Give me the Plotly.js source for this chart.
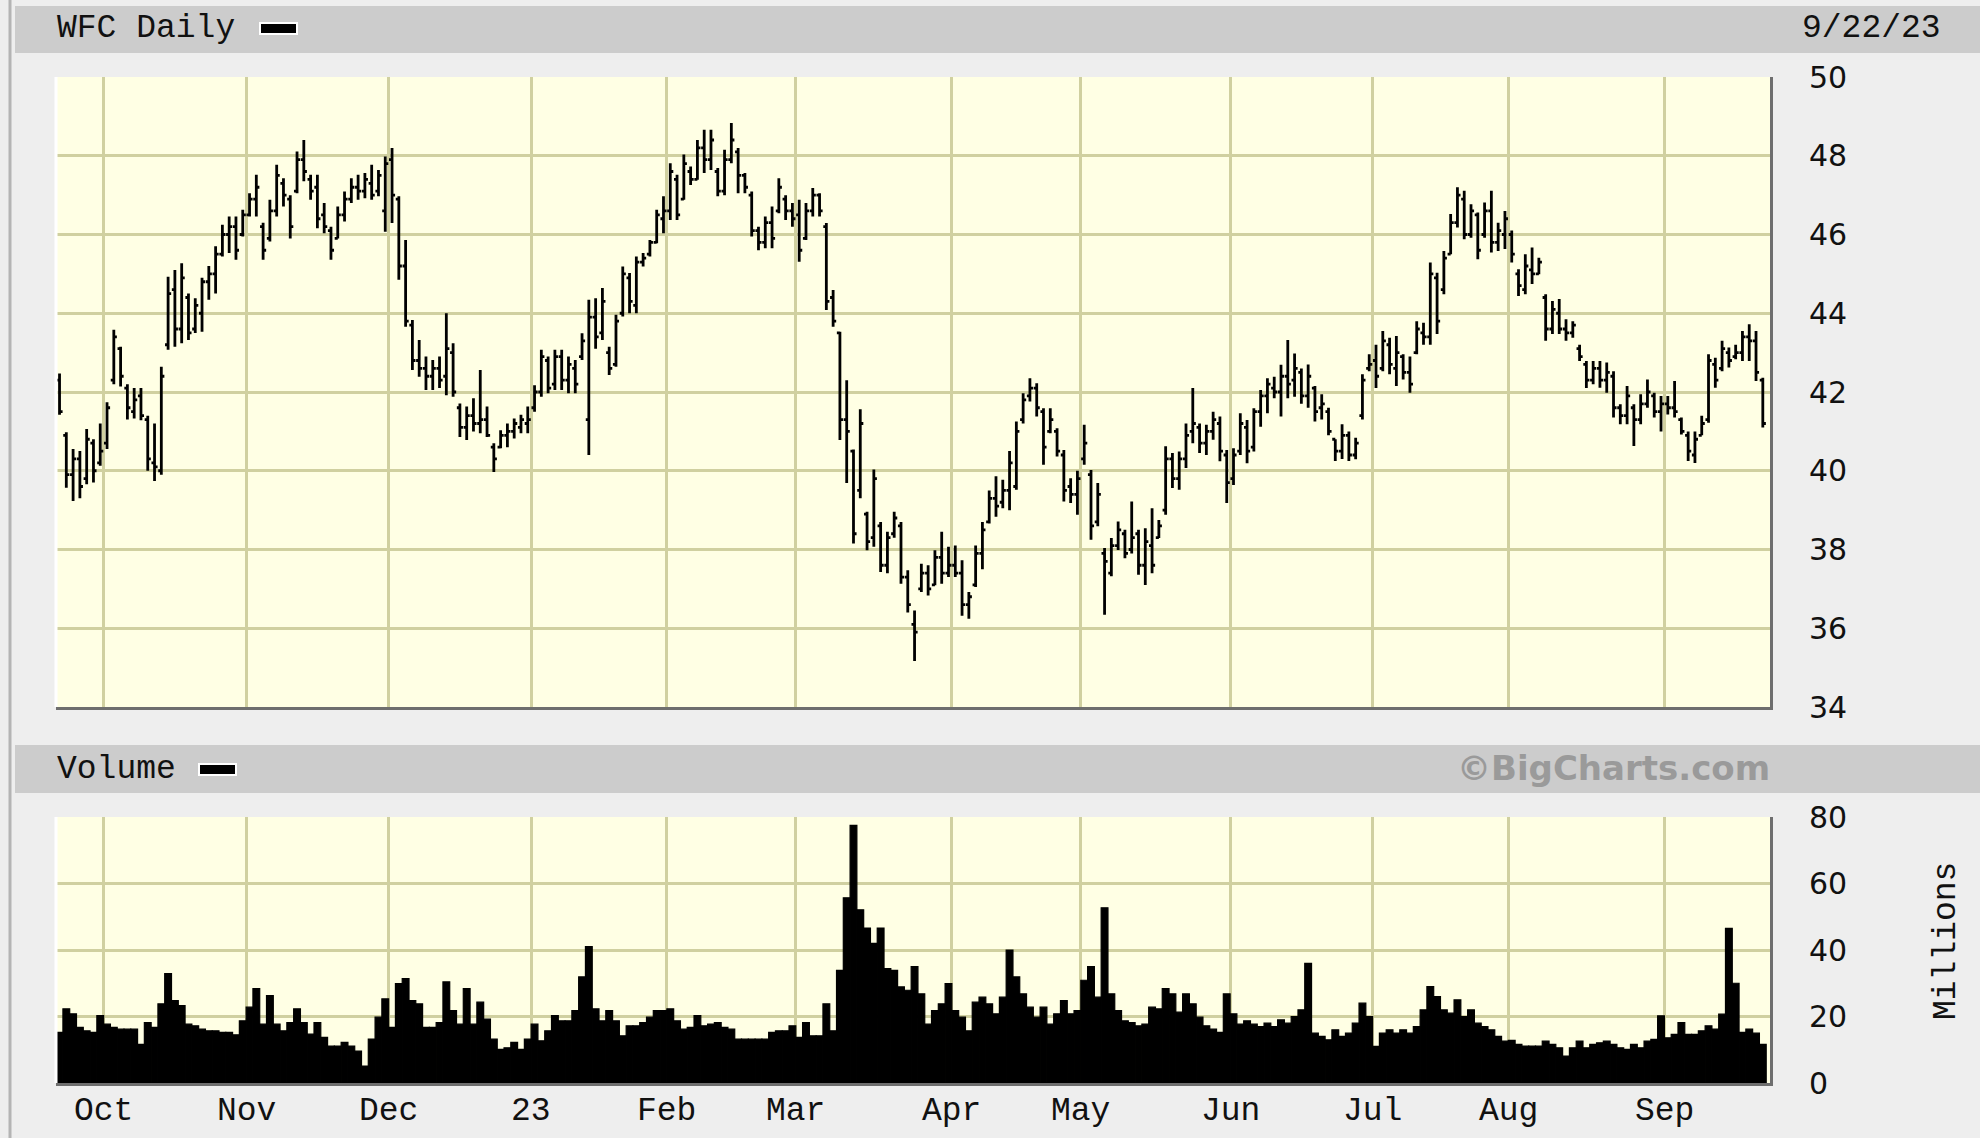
<!DOCTYPE html>
<html>
<head>
<meta charset="utf-8">
<script src="https://cdn.plot.ly/plotly-3.0.1.min.js"></script>
<style>
  html, body { margin: 0; padding: 0; background: #eeeeee; }
  #chart { width: 1980px; height: 1138px; }
</style>
</head>
<body>
<div id="chart"></div>
<script>
// ---- DATA (WFC daily, 9/22/22 - 9/22/23, one entry per trading day) ----
const ticker = "WFC Daily";
const asOf = "9/22/23";

const open = [
42.3,40.9,39.9,40.3,39.8,40.7,40.2,40.7,42.3,43.1,
42.1,41.5,41.9,41.3,40.2,40.0,43.2,44.6,43.6,44.4,
43.6,44.0,44.8,45.0,45.5,46.0,46.2,46.0,46.5,46.9,
46.2,45.9,46.6,47.3,46.9,47.1,47.9,47.4,47.2,46.5,
46.1,45.9,46.5,46.9,47.2,47.1,47.3,47.1,46.6,47.9,
46.9,45.2,43.7,42.8,42.6,42.4,42.6,42.4,43.0,41.6,
41.1,41.4,41.2,41.3,40.6,40.6,40.9,41.0,41.1,41.2,
41.6,42.0,42.8,42.2,42.9,42.3,42.6,42.9,41.3,43.9,
43.5,43.0,42.7,44.0,44.9,44.2,45.3,45.5,45.8,46.4,
46.6,47.4,46.9,47.6,47.4,48.2,47.9,47.6,47.1,47.9,
48.1,47.5,47.0,46.1,45.8,46.3,46.6,46.9,46.6,46.5,
45.9,46.6,47.0,46.2,44.4,43.5,41.3,40.5,39.5,38.9,
38.3,38.6,37.6,38.4,38.6,37.3,36.1,37.0,37.4,37.1,
37.8,37.4,37.6,37.4,36.6,37.1,37.9,38.7,39.3,39.2,
39.5,39.6,41.3,41.9,42.1,41.5,41.0,41.0,40.4,39.6,
39.4,40.3,39.9,38.7,37.9,37.4,38.1,38.4,38.0,38.4,
37.6,38.1,38.3,39.0,40.3,39.8,40.3,41.0,41.1,40.7,
41.0,41.2,40.4,39.8,40.5,41.1,40.6,41.5,41.9,42.1,
42.0,42.4,42.3,42.5,41.9,42.1,41.6,41.5,40.8,40.5,
40.9,40.4,41.4,42.6,42.8,42.6,43.2,42.6,42.9,42.5,
43.0,43.5,43.4,44.9,44.6,45.5,46.3,46.9,46.0,46.5,
46.0,46.6,45.8,46.0,46.0,45.0,44.6,45.1,45.0,44.4,
43.6,44.0,43.6,43.5,43.1,42.7,42.3,42.6,42.3,42.4,
41.6,41.4,41.6,41.3,41.7,41.9,41.5,41.7,41.6,41.3,
40.9,40.4,40.9,41.3,42.7,42.6,43.0,42.9,43.0,43.4,
43.3,42.3];

const high = [
42.47,40.98,40.55,40.50,41.06,40.80,41.20,41.74,43.58,43.15,
42.20,42.10,42.10,41.40,41.20,42.64,44.93,45.10,45.27,44.50,
44.38,44.90,45.20,45.70,46.25,46.46,46.46,46.63,47.05,47.52,
46.30,46.88,47.77,47.43,47.00,48.11,48.40,47.52,47.52,46.80,
46.20,46.71,47.09,47.43,47.52,47.56,47.77,47.64,47.98,48.20,
46.97,45.86,43.83,43.32,42.90,42.81,42.90,44.00,43.24,41.71,
41.63,41.84,42.56,41.63,40.70,41.03,41.20,41.33,41.42,41.63,
42.17,43.07,42.90,43.07,43.07,42.90,42.81,43.49,44.34,44.38,
44.64,43.15,43.96,45.19,45.02,45.44,45.53,45.86,46.63,46.97,
47.81,47.52,48.03,47.73,48.40,48.66,48.66,47.69,48.15,48.83,
48.20,47.56,47.09,46.20,46.46,46.71,47.43,47.00,46.80,46.88,
46.80,47.18,47.05,46.29,44.59,43.53,42.30,40.54,41.56,38.96,
40.03,38.70,38.45,38.96,38.70,37.47,36.45,37.64,37.60,37.98,
38.45,38.07,38.10,37.73,36.92,38.10,38.70,39.50,39.86,39.77,
40.50,41.25,41.97,42.35,42.22,41.59,41.59,41.08,40.53,39.81,
40.00,41.17,40.02,39.69,38.04,38.29,38.71,38.50,39.22,38.50,
38.54,39.05,38.75,40.62,40.45,40.49,41.20,42.10,41.20,41.17,
41.50,41.38,40.53,40.57,41.46,41.29,41.59,42.05,42.35,42.39,
42.69,43.32,42.98,42.60,42.70,42.15,41.94,41.60,40.80,41.18,
41.00,40.84,42.45,42.96,43.20,43.55,43.38,43.42,42.96,42.90,
43.80,43.76,45.29,45.03,45.58,46.52,47.20,47.11,46.77,46.56,
46.81,47.11,46.30,46.60,46.10,45.12,45.50,45.67,45.41,44.48,
44.31,44.36,43.85,43.80,43.20,42.79,42.79,42.79,42.75,42.53,
41.69,42.15,41.69,41.94,42.32,41.98,41.90,41.90,42.28,41.35,
41.00,41.00,41.40,42.96,42.87,43.30,43.13,43.20,43.55,43.72,
43.55,42.36];

const low = [
41.42,39.57,39.23,39.30,39.66,39.70,40.13,40.55,42.20,42.14,
41.30,41.33,41.28,40.00,39.74,39.90,43.07,43.15,43.24,43.32,
43.50,43.53,44.34,44.50,45.44,45.53,45.36,45.95,46.46,46.46,
45.36,45.82,46.46,46.71,45.90,47.05,47.35,46.88,46.16,46.03,
45.36,45.90,46.33,46.80,46.88,46.92,46.88,46.97,46.07,46.29,
44.85,43.66,42.56,42.39,42.05,42.05,42.10,41.92,41.88,40.86,
40.78,41.00,40.95,40.86,39.97,40.57,40.60,40.82,40.95,40.95,
41.50,41.88,41.97,42.05,42.05,41.97,41.97,42.81,40.40,43.10,
43.32,42.43,42.64,43.92,44.00,44.00,45.19,45.44,45.78,46.03,
46.37,46.37,46.88,47.26,47.39,47.56,47.64,46.97,47.00,47.81,
47.05,47.05,45.95,45.60,45.65,45.65,46.54,46.37,46.20,45.31,
45.86,46.46,46.46,44.08,43.66,40.78,39.69,38.15,39.30,37.98,
38.07,37.43,37.40,38.30,37.13,36.40,35.17,36.92,36.83,37.09,
37.13,37.30,37.30,36.32,36.24,37.05,37.50,38.66,38.83,39.05,
39.00,39.52,41.20,41.76,41.38,40.15,40.95,40.36,39.22,39.18,
38.88,40.15,38.25,38.59,36.34,37.32,37.99,37.78,37.90,37.36,
37.10,37.40,38.29,38.88,39.56,39.52,40.07,40.70,40.45,40.40,
40.79,40.24,39.18,39.64,40.40,40.19,40.49,41.12,41.46,41.84,
41.38,41.84,41.88,41.70,41.60,41.25,41.30,40.90,40.25,40.30,
40.25,40.29,41.30,42.53,42.10,42.53,42.45,42.15,42.32,41.98,
42.96,43.20,43.20,43.47,44.48,45.50,46.18,45.88,45.92,45.37,
45.92,45.54,45.58,45.63,45.29,44.44,44.48,44.74,44.99,43.30,
43.47,43.47,43.30,43.38,42.79,42.10,42.20,42.11,41.98,41.35,
41.18,41.18,40.63,41.18,41.60,41.35,41.00,41.43,41.35,40.92,
40.25,40.20,40.90,41.22,42.11,42.53,42.62,42.83,42.79,42.79,
42.28,41.10];

const close = [
41.5,39.9,40.3,39.6,40.8,40.0,40.5,41.6,43.4,42.4,
41.6,41.8,41.4,40.3,40.1,42.4,44.5,43.6,44.9,43.5,
44.2,44.8,45.0,45.5,46.0,46.2,45.6,46.5,46.9,47.2,
45.6,46.6,47.5,47.0,46.2,47.9,47.6,47.1,46.4,46.2,
45.6,46.5,46.9,47.2,47.1,47.4,47.0,47.5,47.8,47.0,
45.2,43.8,42.8,42.6,42.4,42.6,42.3,43.1,42.0,41.1,
41.4,41.2,41.3,40.9,40.3,40.9,41.0,41.2,41.3,41.3,
42.0,42.9,42.1,42.9,42.3,42.7,42.2,43.3,43.9,43.4,
44.3,42.6,43.8,45.0,44.3,45.3,45.4,45.8,46.5,46.6,
47.6,46.5,47.8,47.4,48.2,47.9,48.4,47.1,47.9,48.4,
47.5,47.2,46.1,45.8,46.3,45.9,47.2,46.6,46.4,45.6,
46.6,47.0,46.6,44.3,43.8,41.3,41.0,38.4,41.2,38.2,
39.8,37.6,38.3,38.8,37.3,36.6,35.9,37.4,37.0,37.8,
37.4,37.6,37.4,36.6,36.8,37.9,38.5,39.3,39.1,39.5,
40.2,41.0,41.8,42.1,41.6,40.6,41.3,40.5,39.5,39.4,
39.8,40.7,38.6,39.4,37.7,38.1,38.5,37.9,38.3,37.6,
38.2,37.6,38.6,40.3,39.8,40.3,40.9,41.2,40.7,41.0,
41.3,40.5,39.7,40.4,41.2,40.5,41.5,41.9,42.2,42.0,
42.4,42.2,42.6,41.9,42.4,41.5,41.7,41.0,40.5,40.9,
40.4,40.7,42.3,42.7,42.4,43.3,42.7,43.0,42.5,42.2,
43.6,43.4,45.0,43.8,45.4,46.3,47.0,46.0,46.6,45.6,
46.6,45.8,46.1,46.4,45.5,44.7,45.2,45.0,45.3,43.6,
44.1,43.6,43.5,43.7,42.9,42.3,42.6,42.3,42.5,41.6,
41.4,41.9,41.3,41.7,42.0,41.5,41.7,41.6,41.5,41.0,
40.5,40.8,41.2,42.8,42.3,43.1,42.8,43.0,43.4,43.3,
42.5,41.2];

// volume, millions of shares
const volume = [
15.2,22.3,20.8,16.7,15.7,15.2,20.3,17.7,16.7,16.2,
16.2,16.2,11.6,18.2,16.7,23.8,32.9,24.8,23.3,17.7,
17.2,16.2,15.7,15.7,15.2,15.2,14.5,18.7,22.8,28.4,
17.7,26.3,17.7,15.7,18.2,22.3,18.2,14.7,18.2,13.7,
11.1,11.1,12.2,11.1,9.6,5.1,13.2,19.8,25.3,16.7,
29.9,31.4,24.8,23.8,16.7,16.7,18.2,30.4,21.8,17.7,
28.4,17.7,24.3,19.2,13.2,10.1,10.6,12.2,10.1,13.2,
17.7,12.7,15.7,20.3,18.7,18.7,21.8,31.9,41.0,22.3,
18.7,21.8,18.7,14.2,17.2,17.2,18.2,19.8,21.8,21.8,
22.3,18.7,16.2,16.7,20.3,17.2,17.7,18.2,16.7,16.2,
13.2,13.2,13.2,13.2,13.2,15.2,15.7,15.7,17.2,13.7,
18.2,14.2,14.2,23.8,15.7,33.9,55.7,77.5,52.1,46.6,
42.0,46.6,34.4,33.9,28.9,27.9,35.0,26.8,17.7,21.8,
23.8,29.9,21.8,19.8,15.7,24.3,25.8,23.8,20.8,25.8,
40.0,31.9,26.8,22.8,19.8,22.8,17.7,20.8,24.8,20.8,
21.8,30.9,35.0,25.8,52.7,26.8,21.8,18.7,18.2,17.2,
17.7,22.8,22.3,28.4,26.8,21.3,26.8,23.8,19.8,17.2,
16.2,15.2,26.8,20.8,17.7,18.7,17.7,17.0,18.0,17.0,
19.0,18.0,20.0,22.0,36.0,15.0,14.0,13.0,16.0,14.0,
15.0,18.0,24.0,20.0,11.0,15.0,16.0,15.0,16.0,15.0,
17.0,22.0,29.0,26.0,22.0,21.0,25.0,20.0,22.0,18.0,
17.0,16.0,14.0,12.6,12.8,11.6,11.1,11.1,11.1,12.6,
11.6,10.6,8.1,10.6,12.6,10.6,11.6,12.1,12.6,11.6,
10.6,10.1,11.6,10.6,12.6,13.1,20.2,13.6,14.6,18.2,
14.6,14.6,15.7,17.2,16.2,20.7,46.5,30.0,15.2,16.2,
15.0,11.6];

// month boundaries (trading-day index of the gap before the first session of each month)
const monthTicks  = [6.5, 27.5, 48.5, 69.5, 89.5, 108.5, 131.5, 150.5, 172.5, 193.5, 213.5, 236.5];
const monthLabels = ["Oct","Nov","Dec","23","Feb","Mar","Apr","May","Jun","Jul","Aug","Sep"];
const priceTicks  = [34, 36, 38, 40, 42, 44, 46, 48, 50];
const volumeTicks = [0, 20, 40, 60, 80];

// ---- LAYOUT HELPERS (pixel -> paper) ----
const W = 1980, H = 1138;
const px = v => v / W;
const py = v => 1 - v / H;

const idx = high.map((_, i) => i);

const MONO = "Liberation Mono, DejaVu Sans Mono, monospace";
const SANS = "DejaVu Sans, Liberation Sans, sans-serif";
const GRID = "#d0d0a0";

const priceTrace = {
  type: "ohlc", x: idx, open: open, high: high, low: low, close: close,
  xaxis: "x", yaxis: "y",
  increasing: { line: { color: "#000000", width: 2.8 } },
  decreasing: { line: { color: "#000000", width: 2.8 } },
  tickwidth: 0.45, hoverinfo: "skip", showlegend: false
};
const volTrace = {
  type: "bar", x: idx, y: volume, width: 1,
  xaxis: "x2", yaxis: "y2",
  marker: { color: "#000000", line: { width: 1.2, color: "#000000" } },
  hoverinfo: "skip", showlegend: false
};

const xRange = [-0.52, 252.06];
const commonX = {
  range: xRange, tickvals: monthTicks, showgrid: true, gridcolor: GRID, gridwidth: 3,
  zeroline: false, ticks: "", fixedrange: true, showticklabels: false,
  showline: true, linecolor: "#6e6e6e", linewidth: 3
};

// month labels placed under the volume panel at the month gridlines
const monthAnnotations = monthLabels.map((t, i) => ({
  text: t, xref: "x2", yref: "paper", x: monthTicks[i], y: py(1111),
  xanchor: "center", yanchor: "middle", showarrow: false,
  font: { family: MONO, size: 33, color: "#111111" }
}));

const layout = {
  width: W, height: H,
  margin: { l: 0, r: 0, t: 0, b: 0 },
  paper_bgcolor: "#eeeeee",
  plot_bgcolor: "#ffffe4",
  showlegend: false, hovermode: false, bargap: 0,
  xaxis: Object.assign({}, commonX, {
    domain: [px(56), px(1770)], anchor: "y",
    rangeslider: { visible: false }
  }),
  yaxis: {
    domain: [py(707), py(77)], range: [34, 50], tickvals: priceTicks,
    side: "right", showgrid: true, gridcolor: GRID, gridwidth: 3, zeroline: false,
    ticks: "", ticklabelstandoff: 30, showline: true, linecolor: "#6e6e6e", linewidth: 3,
    tickfont: { family: SANS, size: 30, color: "#111111" }, fixedrange: true
  },
  xaxis2: Object.assign({}, commonX, {
    domain: [px(56), px(1770)], anchor: "y2"
  }),
  yaxis2: {
    domain: [py(1083), py(817)], range: [0, 80], tickvals: volumeTicks,
    side: "right", showgrid: true, gridcolor: GRID, gridwidth: 3, zeroline: false,
    ticks: "", ticklabelstandoff: 30, showline: true, linecolor: "#6e6e6e", linewidth: 3,
    tickfont: { family: SANS, size: 30, color: "#111111" }, fixedrange: true
  },
  shapes: [
    // header bands
    { type: "rect", xref: "paper", yref: "paper", x0: px(15), x1: 1, y0: py(53), y1: py(6),
      fillcolor: "#cccccc", line: { width: 0 }, layer: "below" },
    { type: "rect", xref: "paper", yref: "paper", x0: px(15), x1: 1, y0: py(793), y1: py(745),
      fillcolor: "#cccccc", line: { width: 0 }, layer: "below" },
    // outer frame (left)
    { type: "line", xref: "paper", yref: "paper", x0: px(10), x1: px(10), y0: 0, y1: 1,
      line: { color: "#b4b4b4", width: 3 } },
    // legend swatches
    { type: "rect", xref: "paper", yref: "paper", x0: px(260), x1: px(297), y0: py(34), y1: py(23),
      fillcolor: "#000000", line: { color: "#ffffff", width: 2 } },
    { type: "rect", xref: "paper", yref: "paper", x0: px(199), x1: px(236), y0: py(775), y1: py(764),
      fillcolor: "#000000", line: { color: "#ffffff", width: 2 } },
    // plot left edges (light)
    { type: "line", xref: "paper", yref: "paper", x0: px(56), x1: px(56), y0: py(707), y1: py(77),
      line: { color: "#ffffff", width: 3 } },
    { type: "line", xref: "paper", yref: "paper", x0: px(56), x1: px(56), y0: py(1083), y1: py(817),
      line: { color: "#ffffff", width: 3 } }
  ],
  annotations: [
    { text: ticker, xref: "paper", yref: "paper", x: px(55), y: py(29), xanchor: "left", yanchor: "middle",
      showarrow: false, font: { family: MONO, size: 33, color: "#111111" } },
    { text: asOf, xref: "paper", yref: "paper", x: px(1943), y: py(29), xanchor: "right", yanchor: "middle",
      showarrow: false, font: { family: MONO, size: 33, color: "#111111" } },
    { text: "Volume", xref: "paper", yref: "paper", x: px(55), y: py(769), xanchor: "left", yanchor: "middle",
      showarrow: false, font: { family: MONO, size: 33, color: "#111111" } },
    { text: "<b>©BigCharts.com</b>", xref: "paper", yref: "paper", x: px(1772), y: py(768),
      xanchor: "right", yanchor: "middle",
      showarrow: false, font: { family: SANS, size: 34, color: "#9a9a9a" } },
    { text: "Millions", xref: "paper", yref: "paper", x: px(1946), y: py(941), xanchor: "center", yanchor: "middle",
      textangle: -90, showarrow: false, font: { family: MONO, size: 33, color: "#111111" } }
  ].concat(monthAnnotations)
};

Plotly.newPlot("chart", [priceTrace, volTrace], layout, { staticPlot: true, displayModeBar: false });
</script>
</body>
</html>
